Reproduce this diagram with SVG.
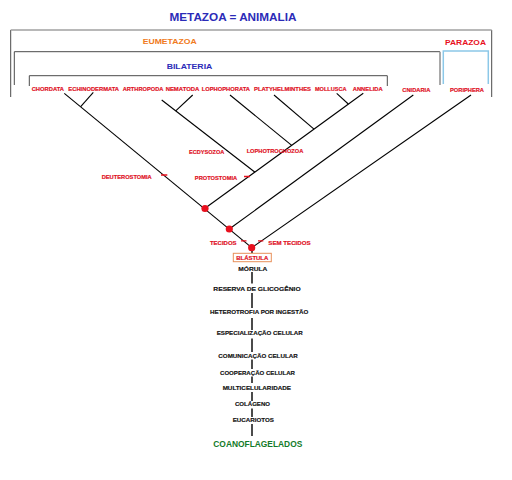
<svg xmlns="http://www.w3.org/2000/svg" width="512" height="480" viewBox="0 0 512 480">
<style>
text{font-family:"Liberation Sans",Arial,sans-serif;font-weight:bold;text-anchor:middle}
.t{font-size:5.8px;fill:#e0101e;stroke:#e0101e;stroke-width:0.18}
.k{font-size:5.8px;fill:#111;stroke:#111;stroke-width:0.15}
.h{font-size:7.8px}
.ln{stroke:#000;stroke-width:1.1;fill:none}
.st{stroke:#111;stroke-width:1.5;fill:none}
.bar{stroke:#e8101e;stroke-width:1.3}
.dot{fill:#e8101e}
.br{fill:none;stroke:#4a4a4a;stroke-width:1}
</style>
<rect width="512" height="480" fill="#fff"/>

<g id="title"><text x="233" y="21.3" font-size="11.2" fill="#2b2bb8" textLength="127" lengthAdjust="spacingAndGlyphs">METAZOA = ANIMALIA</text></g>

<g id="brackets">
<path class="br" d="M10.7,97V30"/><path class="br" d="M491.7,30V97"/>
<path d="M10.7,30H491.7" stroke="#a0a0a0" stroke-width="1.5" fill="none"/>
<path class="br" d="M14.3,85V51.7H440"/>
<path d="M440,51.7V85" stroke="#a0a0a0" stroke-width="1.8" fill="none"/>
<path class="br" d="M29.3,86V75.7H387.3V86"/>
<path d="M443.3,84V51H488.3V84" stroke="#8cc8e8" stroke-width="1.5" fill="none"/>
</g>

<g id="groups">
<text class="h" x="169.7" y="44.3" fill="#f07a20" textLength="54" lengthAdjust="spacingAndGlyphs">EUMETAZOA</text>
<text class="h" x="465.5" y="45.3" fill="#e8101e" textLength="41" lengthAdjust="spacingAndGlyphs">PARAZOA</text>
<text class="h" x="189.5" y="68.7" fill="#2b2bb8" textLength="45.7" lengthAdjust="spacingAndGlyphs">BILATERIA</text>
</g>

<g id="taxa">
<text class="t" x="47.8" y="91.4" textLength="32.3" lengthAdjust="spacingAndGlyphs">CHORDATA</text>
<text class="t" x="93.7" y="91.4" textLength="50.7" lengthAdjust="spacingAndGlyphs">ECHINODERMATA</text>
<text class="t" x="143" y="91.4" textLength="40.7" lengthAdjust="spacingAndGlyphs">ARTHROPODA</text>
<text class="t" x="182.5" y="91.4" textLength="33.7" lengthAdjust="spacingAndGlyphs">NEMATODA</text>
<text class="t" x="225.8" y="91.4" textLength="48.3" lengthAdjust="spacingAndGlyphs">LOPHOPHORATA</text>
<text class="t" x="282.5" y="91.4" textLength="57" lengthAdjust="spacingAndGlyphs">PLATYHELMINTHES</text>
<text class="t" x="330.8" y="91.4" textLength="31.7" lengthAdjust="spacingAndGlyphs">MOLLUSCA</text>
<text class="t" x="367.7" y="91.4" textLength="30" lengthAdjust="spacingAndGlyphs">ANNELIDA</text>
<text class="t" x="416.3" y="92" textLength="28" lengthAdjust="spacingAndGlyphs">CNIDARIA</text>
<text class="t" x="467" y="92" textLength="34" lengthAdjust="spacingAndGlyphs">PORIPHERA</text>
</g>

<g id="connectors">
<path class="ln" d="M64.3,93.3L251.7,247.7"/>
<path class="ln" d="M93.3,92.3L80.7,106.6"/>
<path class="ln" d="M161.7,100L255,172.2"/>
<path class="ln" d="M192.7,95L175.7,110.8"/>
<path class="ln" d="M230,95L291.7,145.4"/>
<path class="ln" d="M274,95L314,129.2"/>
<path class="ln" d="M336.7,93.3L348.3,104"/>
<path class="ln" d="M363.3,93.3L205,208.3"/>
<path class="ln" d="M413.3,95L229.3,229"/>
<path class="ln" d="M471,95L251.7,247.7"/>
<path class="st" d="M252,248V253.3M252,272V283.5M252,293V308M252,318V330M252,338.5V352M252,359.5V369M252,376.5V383M252,392V401M252,408.5V417M252,424V436"/>
<path class="bar" d="M161,175H167.3M244,176.5H250M241,240.8H246.5M258,240.8H263.3"/>
</g>

<g id="nodes">
<circle class="dot" cx="205" cy="208.5" r="3.6"/>
<circle class="dot" cx="229.3" cy="229" r="3.6"/>
<circle class="dot" cx="251.7" cy="247.7" r="3.6"/>
</g>

<g id="clades">
<text class="t" x="126.7" y="178.8" textLength="50" lengthAdjust="spacingAndGlyphs">DEUTEROSTOMIA</text>
<text class="t" x="216" y="180.4" textLength="42.3" lengthAdjust="spacingAndGlyphs">PROTOSTOMIA</text>
<text class="t" x="206.7" y="153.8" textLength="35.3" lengthAdjust="spacingAndGlyphs">ECDYSOZOA</text>
<text class="t" x="275" y="153.1" textLength="56.7" lengthAdjust="spacingAndGlyphs">LOPHOTROCHOZOA</text>
<text class="t" x="223.3" y="244.8" textLength="26.7" lengthAdjust="spacingAndGlyphs">TECIDOS</text>
<text class="t" x="289.5" y="244.8" textLength="42.3" lengthAdjust="spacingAndGlyphs">SEM TECIDOS</text>
</g>

<g id="blastula">
<rect x="233.3" y="253.3" width="38" height="8.4" fill="#fff" stroke="#e8905a" stroke-width="1"/>
<text class="t" x="252.3" y="259.7" textLength="32" lengthAdjust="spacingAndGlyphs">BLÁSTULA</text>
</g>

<g id="characters">
<text class="k" x="252.8" y="270.8" font-size="6.2" textLength="29" lengthAdjust="spacingAndGlyphs">MÓRULA</text>
<text class="k" x="257" y="291.1" textLength="87.3" lengthAdjust="spacingAndGlyphs">RESERVA DE GLICOGÊNIO</text>
<text class="k" x="259.2" y="314.4" textLength="98.3" lengthAdjust="spacingAndGlyphs">HETEROTROFIA POR INGESTÃO</text>
<text class="k" x="259.7" y="335.4" textLength="86" lengthAdjust="spacingAndGlyphs">ESPECIALIZAÇÃO CELULAR</text>
<text class="k" x="258" y="357.8" textLength="79.3" lengthAdjust="spacingAndGlyphs">COMUNICAÇÃO CELULAR</text>
<text class="k" x="257.5" y="374.8" textLength="75" lengthAdjust="spacingAndGlyphs">COOPERAÇÃO CELULAR</text>
<text class="k" x="256.8" y="389.8" textLength="68.3" lengthAdjust="spacingAndGlyphs">MULTICELULARIDADE</text>
<text class="k" x="252.5" y="406.4" textLength="35" lengthAdjust="spacingAndGlyphs">COLÁGENO</text>
<text class="k" x="253.3" y="422.1" textLength="41.3" lengthAdjust="spacingAndGlyphs">EUCARIOTOS</text>
<text x="257.8" y="446.5" font-size="8.4" fill="#127a28" textLength="89" lengthAdjust="spacingAndGlyphs">COANOFLAGELADOS</text>
</g>
</svg>
